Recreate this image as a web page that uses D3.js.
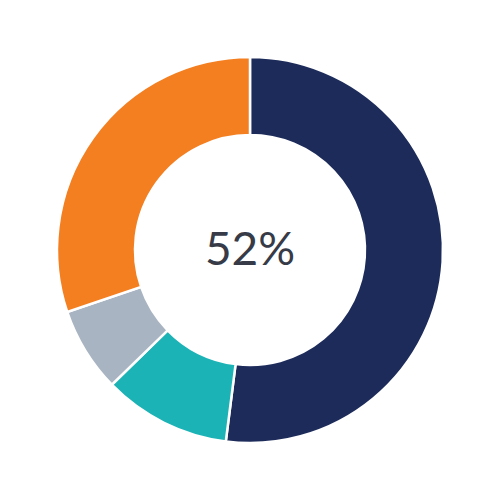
<!DOCTYPE html>
<html>
<head>
<meta charset="utf-8">
<script src="https://cdn.jsdelivr.net/npm/d3@7"></script>
<style>
  html, body { margin: 0; padding: 0; background: #fff; }
</style>
</head>
<body>
<div id="chart"></div>
<script>
// DATA
const categories = ['A', 'B', 'C', 'D'];
const values = [52, 10.7, 7.1, 30.2];
const colors = ['#1c2b5a', '#1bb3b6', '#a9b4c2', '#f37f21'];
const centerLabel = '52%';

const width = 500, height = 500;
const outerR = 193, innerR = 115;

const svg = d3.select('#chart').append('svg')
  .attr('width', width)
  .attr('height', height);

const g = svg.append('g')
  .attr('transform', `translate(${width / 2},${height / 2})`);

const pie = d3.pie().sort(null).value(d => d.value);
const arc = d3.arc().innerRadius(innerR).outerRadius(outerR);

const data = categories.map((c, i) => ({ name: c, value: values[i], color: colors[i] }));

g.selectAll('path')
  .data(pie(data))
  .enter()
  .append('path')
    .attr('d', arc)
    .attr('fill', d => d.data.color)
    .attr('stroke', '#fff')
    .attr('stroke-width', 2.5);

g.append('text')
  .attr('text-anchor', 'middle')
  .attr('dy', '0.33em')
  .attr('font-family', 'Lato, sans-serif')
  .attr('font-weight', 400)
  .attr('font-size', 46)
  .attr('fill', '#363b47')
  .text(centerLabel);
</script>
</body>
</html>
